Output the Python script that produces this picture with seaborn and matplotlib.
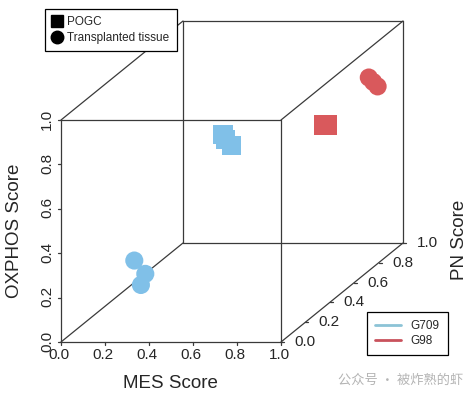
import numpy as np
import pandas as pd
import seaborn as sns
import matplotlib.pyplot as plt
from matplotlib.lines import Line2D

# data (depth axis PN is a best guess)
cell_line = ['G709', 'G709', 'G709', 'G709', 'G709', 'G709',
             'G98', 'G98', 'G98', 'G98', 'G98']
sample = ['POGC', 'POGC', 'POGC',
          'Transplanted tissue', 'Transplanted tissue', 'Transplanted tissue',
          'POGC', 'POGC',
          'Transplanted tissue', 'Transplanted tissue', 'Transplanted tissue']
mes_score = [0.57, 0.61, 0.58, 0.25, 0.30, 0.28, 0.86, 0.88, 0.90, 0.92, 0.94]
pn_score = [0.30, 0.30, 0.30, 0.15, 0.15, 0.15, 0.60, 0.60, 0.90, 0.90, 0.90]
oxphos_score = [0.80, 0.75, 0.78, 0.30, 0.24, 0.19, 0.71, 0.71, 0.79, 0.77, 0.75]
ticks = [0.0, 0.2, 0.4, 0.6, 0.8, 1.0]
tick_labels = ['0.0', '0.2', '0.4', '0.6', '0.8', '1.0']

colors = {'G709': '#80C0E8', 'G98': '#D9595C'}

sns.set_style('white')
plt.rcParams['font.family'] = ['Liberation Sans', 'DejaVu Sans']

# oblique projection like scatterplot3d (pixel units)
X0, Y0 = 61, 342
SX, SZ = 220, 222
DX, DY = 122, 99


def proj(x, y, z):
    x = np.asarray(x, float)
    y = np.asarray(y, float)
    z = np.asarray(z, float)
    return X0 + SX * x + DX * y, Y0 - SZ * z - DY * y


df = pd.DataFrame({'line': cell_line, 'sample': sample,
                   'MES': mes_score, 'PN': pn_score, 'OXPHOS': oxphos_score})
df['px'], df['py'] = proj(df['MES'], df['PN'], df['OXPHOS'])

fig = plt.figure(figsize=(4.74, 3.98), dpi=100)
ax = fig.add_axes([0, 0, 1, 1])

# box
box_col = '#3a3a3a'
corners = [(a, b, c) for a in (0, 1) for b in (0, 1) for c in (0, 1)]
for p in corners:
    for q in corners:
        if p < q and sum(abs(i - j) for i, j in zip(p, q)) == 1:
            xs, ys = proj([p[0], q[0]], [p[1], q[1]], [p[2], q[2]])
            ax.plot(xs, ys, color=box_col, lw=0.9, zorder=1)

# ticks + labels
for t, lab in zip(ticks, tick_labels):
    # x axis
    tx, ty = proj(t, 0, 0)
    ax.plot([tx, tx], [ty, ty + 3], color=box_col, lw=0.9)
    ax.text(tx - 2, ty + 13, lab, ha='center', va='center', fontsize=11)
    # z axis
    tx, ty = proj(0, 0, t)
    ax.plot([tx - 3, tx], [ty, ty], color=box_col, lw=0.9)
    ax.text(tx - 14, ty - 1, lab, ha='center', va='center', fontsize=11, rotation=90)
    # y axis (depth)
    tx, ty = proj(1, t, 0)
    ax.plot([tx, tx + 3], [ty, ty], color=box_col, lw=0.9)
    ax.text(tx + 24, ty, lab, ha='center', va='center', fontsize=11)

ax.text(170, 383, 'MES Score', ha='center', va='center', fontsize=13.5)
ax.text(15, 231, 'OXPHOS Score', ha='center', va='center', fontsize=13.5, rotation=90)
ax.text(460, 240, 'PN Score', ha='center', va='center', fontsize=13.5, rotation=90)

# points
sns.scatterplot(data=df[df['sample'] == 'POGC'], x='px', y='py', hue='line',
                palette=colors, marker='s', s=190, linewidth=0, ax=ax,
                legend=False, zorder=3)
sns.scatterplot(data=df[df['sample'] == 'Transplanted tissue'], x='px', y='py',
                hue='line', palette=colors, marker='o', s=170, linewidth=0,
                ax=ax, legend=False, zorder=3)

# legends
h1 = [Line2D([], [], ls='', marker='s', color='black', markersize=9),
      Line2D([], [], ls='', marker='o', color='black', markersize=9)]
leg1 = ax.legend(h1, ['POGC', 'Transplanted tissue'], loc='upper left',
                 bbox_to_anchor=(45, 9), bbox_transform=ax.transData,
                 fontsize=8.5, frameon=True, fancybox=False, framealpha=1,
                 edgecolor='black', borderaxespad=0, borderpad=0.6,
                 handlelength=0.9, handletextpad=0.4, labelspacing=0.35)
leg1.get_frame().set_linewidth(0.9)
ax.add_artist(leg1)

h2 = [Line2D([], [], color='#8CC3D6', lw=2),
      Line2D([], [], color='#C9525C', lw=2)]
leg2 = ax.legend(h2, ['G709', 'G98'], loc='upper left',
                 bbox_to_anchor=(367, 312), bbox_transform=ax.transData,
                 fontsize=8.5, frameon=True, fancybox=False, framealpha=1,
                 edgecolor='black', borderaxespad=0, borderpad=0.7,
                 handlelength=2.2, handletextpad=0.8, labelspacing=0.25)
leg2.get_frame().set_linewidth(0.9)

# watermark
ax.text(338, 380, '公众号 · 被炸熟的虾', ha='left', va='center', fontsize=9.5,
        color='#b4b4b4', family=['Noto Sans CJK SC', 'DejaVu Sans'])

ax.set_xlim(0, 474)
ax.set_ylim(398, 0)
ax.axis('off')

fig.savefig('out.png', dpi=100)
